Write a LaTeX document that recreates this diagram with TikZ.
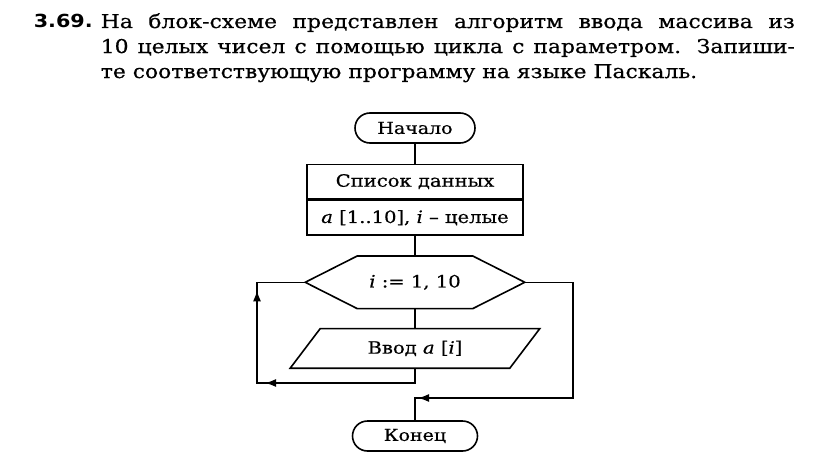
\documentclass[tikz,border=0pt]{standalone}
\usepackage{fontspec}
\setmainfont[FakeStretch=1.15, FakeBold=0.6]{DejaVu Serif}
\newfontfamily\numfont[FakeStretch=1.15]{DejaVu Sans}
\usetikzlibrary{arrows.meta, positioning}

\begin{document}
\begin{tikzpicture}[x=1pt, y=1pt, node distance=20pt, line width=1.6pt]
\tikzstyle{terminal} = [rectangle, rounded corners=15pt, minimum height=30pt, inner sep=0pt, text centered, draw=black, font=\fontsize{16.5}{20}\selectfont]
\tikzstyle{block} = [rectangle, minimum width=216pt, inner sep=0pt, text centered, draw=black, font=\fontsize{17}{20}\selectfont]
\tikzstyle{blank} = [rectangle, inner sep=0pt, text centered, font=\fontsize{17}{20}\selectfont]
\tikzstyle{title} = [anchor=base west, inner sep=0pt, font=\fontsize{19}{25}\selectfont]
\tikzstyle{arrowtip} = [-{Latex[length=11pt, width=8pt]}]

\useasboundingbox (0,0) rectangle (816,451);

% task text
\node (num) [title, font=\numfont\bfseries\fontsize{18}{25}\selectfont] at (33,423) {3.69.};
\node (line1) [title] at (100,423) {\makebox[694pt][s]{На блок-схеме представлен алгоритм ввода массива из}};
\node (line2) [title] at (100,398) {\makebox[694pt][s]{10 целых чисел с помощью цикла с параметром. Запиши-}};
\node (line3) [title] at (100,373) {те соответствующую программу на языке Паскаль.};

% flowchart
\node (start) [terminal, minimum width=120pt] at (415,323) {Начало};
\node (data) [block, minimum height=34pt, below=of start] {Список данных};
\node (vars) [block, minimum height=35pt, below=0pt of data] {\textit{a} [1..10], \textit{i} -- целые};
\node (loop) [blank, minimum width=114pt, minimum height=51pt, below=of vars] {\textit{i} := 1, 10};
\draw (loop.north west) -- (loop.north east) -- ([xshift=52pt]loop.east) coordinate (loopR) -- (loop.south east) -- (loop.south west) -- ([xshift=-52pt]loop.west) coordinate (loopL) -- cycle;
\node (input) [blank, minimum width=218pt, minimum height=38pt, below=of loop] {Ввод \textit{a} [\textit{i}]};
\draw ([xshift=15pt]input.north west) -- ([xshift=15pt]input.north east) -- ([xshift=-15pt]input.south east) -- ([xshift=-15pt]input.south west) -- cycle;
\node (stop) [terminal, minimum width=125pt, below=52pt of input] {Конец};

% connectors
\draw (start) -- (data);
\draw (vars) -- (loop);
\draw (loop) -- (input);
\coordinate (lb) at (257,68);
\coordinate (rb) at (573,53);
\draw (input.south) |- (lb) |- (loopL);
\draw (loopR) -| (rb) -| (stop.north);
\coordinate (lt) at (lb |- loopL);
\coordinate (rc) at (stop.north |- rb);
\draw[arrowtip] ([xshift=20pt]lb) -- ([xshift=8pt]lb);
\draw[arrowtip] ([yshift=-20pt]lt) -- ([yshift=-8pt]lt);
\draw[arrowtip] ([xshift=16pt]rc) -- ([xshift=3pt]rc);

\end{tikzpicture}
\end{document}
